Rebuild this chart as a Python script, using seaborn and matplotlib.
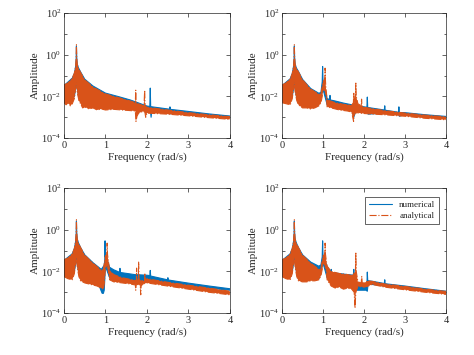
import numpy as np
import matplotlib
matplotlib.use("Agg")
import matplotlib.pyplot as plt
from matplotlib.lines import Line2D
from matplotlib.ticker import LogLocator, FixedLocator, NullLocator, NullFormatter
import seaborn as sns

# ---------------- data (frequency in rad/s, amplitude as log10) ----------------
series_names = ["numerical", "analytical"]
x_ticks = [0, 1, 2, 3, 4]
y_tick_exps = [-4, -2, 0, 2]

# Panel 1 (top-left)
p1_ana_hi_f = [0, 0.1, 0.2, 0.25, 0.28, 0.293, 0.30, 0.307, 0.32, 0.35, 0.4, 0.5, 0.7, 1.0, 1.3, 1.6, 1.72, 1.73, 1.74, 1.93, 1.945, 1.955, 2.0, 2.5, 3.0, 3.5, 4.0]
p1_ana_hi_a = [-1.45, -1.35, -1.12, -0.88, -0.55, -0.15, 0.48, -0.1, -0.45, -0.65, -0.85, -1.2, -1.55, -1.88, -2.05, -2.22, -2.3, -1.7, -2.32, -2.45, -1.7, -2.46, -2.52, -2.65, -2.78, -2.88, -2.97]
p1_ana_lo_f = [0, 0.05, 0.1, 0.15, 0.2, 0.25, 0.28, 0.3, 0.32, 0.36, 0.4, 0.45, 0.5, 0.6, 0.7, 0.8, 0.9, 1.0, 1.2, 1.4, 1.6, 1.72, 1.735, 1.76, 1.8, 1.9, 1.95, 1.97, 2.0, 2.5, 3.0, 3.5, 4.0]
p1_ana_lo_a = [-2.3, -2.4, -2.3, -2.45, -2.35, -2.1, -1.6, -1.3, -1.8, -2.2, -2.35, -2.55, -2.5, -2.6, -2.55, -2.65, -2.6, -2.65, -2.62, -2.65, -2.68, -2.7, -3.2, -2.95, -2.8, -2.72, -2.75, -3.0, -2.8, -2.85, -2.93, -3.02, -3.1]
p1_num_hi_f = [0, 0.2, 0.25, 0.28, 0.293, 0.30, 0.307, 0.32, 0.35, 0.4, 0.5, 0.7, 1.0, 1.3, 1.6, 2.0, 2.07, 2.08, 2.09, 2.5, 2.545, 2.555, 2.565, 3.0, 3.5, 4.0]
p1_num_hi_a = [-1.48, -1.12, -0.9, -0.57, -0.2, 0.42, -0.1, -0.45, -0.63, -0.82, -1.17, -1.5, -1.84, -2.0, -2.17, -2.46, -2.48, -1.6, -2.49, -2.6, -2.61, -2.5, -2.62, -2.72, -2.84, -2.94]
p1_num_lo_f = [0, 0.25, 0.3, 0.35, 0.4, 1.0, 1.6, 2.0, 2.085, 2.1, 2.115, 2.5, 2.545, 2.555, 2.565, 3.0, 4.0]
p1_num_lo_a = [-2.2, -2.0, -1.4, -2.0, -2.25, -2.5, -2.55, -2.65, -2.7, -3.0, -2.7, -2.75, -2.78, -2.85, -2.78, -2.85, -3.0]

# Panel 2 (top-right)
p2_ana_hi_f = [0, 0.1, 0.2, 0.25, 0.28, 0.293, 0.30, 0.307, 0.32, 0.35, 0.4, 0.5, 0.7, 0.9, 0.95, 0.98, 1.0, 1.03, 1.045, 1.05, 1.055, 1.07, 1.1, 1.15, 1.3, 1.5, 1.7, 1.74, 1.75, 1.76, 1.79, 1.8, 1.81, 1.85, 1.93, 1.94, 1.95, 2.0, 2.5, 3.0, 3.5, 4.0]
p2_ana_hi_a = [-1.45, -1.35, -1.15, -0.9, -0.55, -0.15, 0.48, -0.1, -0.45, -0.65, -0.82, -1.2, -1.65, -1.9, -1.85, -1.55, -1.3, -1.2, -1.1, -0.64, -1.1, -1.6, -2.15, -2.2, -2.3, -2.38, -2.42, -2.3, -1.85, -2.3, -2.0, -1.36, -2.0, -2.35, -2.45, -2.13, -2.46, -2.52, -2.68, -2.8, -2.9, -2.98]
p2_ana_lo_f = [0, 0.1, 0.2, 0.25, 0.28, 0.3, 0.32, 0.36, 0.4, 0.5, 0.6, 0.7, 0.8, 0.9, 0.95, 0.98, 1.0, 1.05, 1.08, 1.1, 1.2, 1.4, 1.6, 1.7, 1.745, 1.76, 1.78, 1.85, 1.9, 2.0, 2.5, 3.0, 3.5, 4.0]
p2_ana_lo_a = [-2.3, -2.35, -2.4, -2.1, -1.6, -1.3, -1.8, -2.2, -2.4, -2.55, -2.55, -2.6, -2.55, -2.45, -2.3, -2.0, -1.7, -1.7, -2.0, -2.5, -2.55, -2.65, -2.7, -2.75, -3.2, -2.9, -2.8, -2.78, -2.8, -2.82, -2.88, -2.95, -3.05, -3.12]
p2_num_hi_f = [0, 0.2, 0.25, 0.28, 0.293, 0.30, 0.307, 0.32, 0.35, 0.4, 0.5, 0.7, 0.9, 0.95, 0.98, 0.99, 1.0, 1.03, 1.07, 1.1, 1.16, 1.17, 1.18, 1.3, 1.5, 1.7, 2.0, 2.07, 2.08, 2.09, 2.495, 2.505, 2.515, 2.84, 2.85, 2.86, 3.0, 3.5, 4.0]
p2_num_hi_a = [-1.48, -1.15, -0.9, -0.57, -0.2, 0.42, -0.1, -0.45, -0.63, -0.8, -1.18, -1.62, -1.85, -1.8, -1.3, -0.56, -1.3, -1.4, -1.8, -2.1, -2.15, -1.95, -2.17, -2.22, -2.32, -2.4, -2.5, -2.52, -2.03, -2.53, -2.65, -2.45, -2.66, -2.76, -2.5, -2.77, -2.78, -2.88, -2.96]
p2_num_lo_f = [0, 0.25, 0.3, 0.35, 0.4, 0.9, 1.0, 1.1, 1.6, 1.7, 1.75, 1.8, 2.0, 2.08, 2.1, 2.5, 2.85, 2.86, 3.0, 4.0]
p2_num_lo_a = [-2.2, -2.0, -1.4, -2.0, -2.3, -2.35, -1.65, -2.4, -2.6, -2.65, -3.0, -2.7, -2.72, -2.75, -2.85, -2.8, -2.88, -2.95, -2.88, -3.05]

# Panel 3 (bottom-left)
p3_ana_hi_f = [0, 0.1, 0.2, 0.25, 0.28, 0.293, 0.30, 0.307, 0.32, 0.35, 0.4, 0.5, 0.7, 0.9, 0.95, 0.98, 1.0, 1.03, 1.04, 1.05, 1.07, 1.1, 1.2, 1.4, 1.6, 1.7, 1.745, 1.75, 1.755, 1.79, 1.8, 1.81, 1.9, 1.945, 1.95, 1.955, 2.0, 2.5, 3.0, 3.5, 4.0]
p3_ana_hi_a = [-1.44, -1.35, -1.15, -0.9, -0.55, -0.15, 0.48, -0.1, -0.45, -0.65, -0.85, -1.22, -1.6, -1.95, -1.9, -1.5, -1.25, -1.2, -0.64, -1.2, -1.5, -1.95, -2.15, -2.3, -2.38, -2.42, -2.45, -1.84, -2.45, -2.4, -1.55, -2.4, -2.45, -2.45, -2.08, -2.45, -2.35, -2.52, -2.66, -2.8, -2.95]
p3_ana_lo_f = [0, 0.1, 0.2, 0.25, 0.28, 0.3, 0.32, 0.36, 0.4, 0.5, 0.6, 0.7, 0.8, 0.9, 0.95, 0.97, 1.0, 1.05, 1.08, 1.1, 1.2, 1.4, 1.6, 1.72, 1.73, 1.74, 1.8, 1.84, 1.85, 1.86, 1.9, 2.0, 2.5, 3.0, 3.5, 4.0]
p3_ana_lo_a = [-2.25, -2.35, -2.4, -2.1, -1.6, -1.3, -1.8, -2.25, -2.45, -2.55, -2.6, -2.65, -2.7, -2.8, -2.85, -2.6, -1.8, -1.75, -2.1, -2.4, -2.5, -2.55, -2.6, -2.65, -2.9, -2.65, -2.6, -2.7, -3.12, -2.7, -2.6, -2.55, -2.7, -2.85, -3.0, -3.12]
p3_num_hi_f = [0, 0.2, 0.25, 0.28, 0.293, 0.30, 0.307, 0.32, 0.35, 0.4, 0.5, 0.7, 0.9, 0.97, 0.985, 0.99, 0.995, 1.02, 1.07, 1.1, 1.2, 1.34, 1.35, 1.36, 1.6, 1.7, 2.0, 2.07, 2.08, 2.09, 2.495, 2.505, 2.515, 3.0, 3.5, 4.0]
p3_num_hi_a = [-1.47, -1.15, -0.9, -0.57, -0.2, 0.42, -0.1, -0.45, -0.63, -0.85, -1.2, -1.58, -1.9, -1.7, -1.4, -0.53, -1.3, -1.35, -1.6, -1.8, -1.92, -2.04, -1.85, -2.05, -2.12, -2.15, -2.18, -2.2, -1.95, -2.22, -2.4, -2.3, -2.41, -2.56, -2.7, -2.83]
p3_num_lo_f = [0, 0.25, 0.3, 0.35, 0.4, 0.85, 0.92, 0.95, 0.97, 1.0, 1.1, 1.6, 2.0, 3.0, 4.0]
p3_num_lo_a = [-2.15, -2.0, -1.4, -2.0, -2.35, -2.7, -3.05, -3.05, -2.9, -1.75, -2.3, -2.5, -2.45, -2.7, -2.9]

# Panel 4 (bottom-right)
p4_ana_hi_f = [0, 0.1, 0.2, 0.25, 0.28, 0.293, 0.30, 0.307, 0.32, 0.35, 0.4, 0.5, 0.7, 0.9, 0.95, 0.98, 1.0, 1.03, 1.045, 1.05, 1.055, 1.08, 1.1, 1.2, 1.4, 1.6, 1.7, 1.75, 1.79, 1.8, 1.81, 1.85, 1.93, 1.945, 1.955, 2.0, 2.1, 2.2, 2.5, 3.0, 3.5, 4.0]
p4_ana_hi_a = [-1.44, -1.35, -1.15, -0.9, -0.55, -0.15, 0.48, -0.1, -0.45, -0.65, -0.85, -1.22, -1.6, -1.9, -1.85, -1.5, -1.25, -1.2, -1.1, -0.64, -1.1, -1.5, -1.75, -2.0, -2.1, -2.15, -2.2, -2.1, -2.0, -1.12, -2.0, -2.5, -2.55, -2.24, -2.55, -2.55, -2.45, -2.48, -2.6, -2.72, -2.85, -2.96]
p4_ana_lo_f = [0, 0.1, 0.2, 0.25, 0.28, 0.3, 0.32, 0.36, 0.4, 0.5, 0.6, 0.7, 0.8, 0.9, 0.95, 0.98, 1.0, 1.05, 1.08, 1.1, 1.2, 1.3, 1.4, 1.5, 1.6, 1.7, 1.76, 1.78, 1.8, 1.85, 2.0, 2.1, 2.2, 2.5, 3.0, 3.5, 4.0]
p4_ana_lo_a = [-2.25, -2.35, -2.4, -2.1, -1.6, -1.3, -1.8, -2.25, -2.45, -2.5, -2.5, -2.45, -2.45, -2.4, -2.2, -1.9, -1.6, -1.7, -2.0, -2.4, -2.7, -2.8, -2.75, -2.85, -2.8, -2.85, -3.0, -3.76, -3.0, -2.72, -2.75, -2.7, -2.62, -2.75, -2.88, -3.0, -3.1]
p4_num_hi_f = [0, 0.2, 0.25, 0.28, 0.293, 0.30, 0.307, 0.32, 0.35, 0.4, 0.5, 0.7, 0.9, 0.95, 0.98, 0.99, 1.0, 1.03, 1.07, 1.1, 1.19, 1.2, 1.21, 1.4, 1.6, 1.74, 1.75, 1.76, 1.8, 1.82, 2.05, 2.07, 2.08, 2.09, 2.1, 2.2, 2.495, 2.505, 2.515, 3.0, 3.5, 4.0]
p4_num_hi_a = [-1.47, -1.15, -0.9, -0.57, -0.2, 0.42, -0.1, -0.45, -0.63, -0.85, -1.2, -1.55, -1.75, -1.68, -1.3, -0.53, -1.3, -1.4, -1.6, -1.75, -2.05, -1.9, -2.06, -2.1, -2.15, -2.18, -1.9, -2.2, -2.3, -2.7, -2.7, -2.7, -2.03, -2.45, -2.45, -2.47, -2.58, -2.4, -2.59, -2.7, -2.83, -2.95]
p4_num_lo_f = [0, 0.25, 0.3, 0.35, 0.4, 0.9, 1.0, 1.1, 1.6, 1.8, 1.82, 2.05, 2.08, 2.1, 2.5, 3.0, 4.0]
p4_num_lo_a = [-2.15, -2.0, -1.4, -2.0, -2.35, -2.35, -1.6, -2.3, -2.7, -2.8, -2.9, -2.9, -2.95, -2.6, -2.7, -2.82, -3.0]

panels = [
    (p1_num_hi_f, p1_num_hi_a, p1_num_lo_f, p1_num_lo_a, p1_ana_hi_f, p1_ana_hi_a, p1_ana_lo_f, p1_ana_lo_a),
    (p2_num_hi_f, p2_num_hi_a, p2_num_lo_f, p2_num_lo_a, p2_ana_hi_f, p2_ana_hi_a, p2_ana_lo_f, p2_ana_lo_a),
    (p3_num_hi_f, p3_num_hi_a, p3_num_lo_f, p3_num_lo_a, p3_ana_hi_f, p3_ana_hi_a, p3_ana_lo_f, p3_ana_lo_a),
    (p4_num_hi_f, p4_num_hi_a, p4_num_lo_f, p4_num_lo_a, p4_ana_hi_f, p4_ana_hi_a, p4_ana_lo_f, p4_ana_lo_a),
]

# ---------------- style ----------------
sns.set_style("ticks")
plt.rcParams["font.family"] = ["Liberation Serif", "DejaVu Serif"]
plt.rcParams["mathtext.fontset"] = "custom"
plt.rcParams["mathtext.rm"] = "Liberation Serif"
plt.rcParams["mathtext.it"] = "Liberation Serif:italic"
plt.rcParams["mathtext.default"] = "regular"

BLUE = "#0072BD"
ORANGE = "#D95319"
AXC = "#262626"
FS = 7.5

fig = plt.figure(figsize=(4.74, 3.55), dpi=100)
positions = [
    [0.135, 0.611, 0.350, 0.352],
    [0.595, 0.611, 0.346, 0.352],
    [0.135, 0.118, 0.350, 0.352],
    [0.595, 0.118, 0.346, 0.352],
]


def draw_series(ax, fh, ah, fl, al, color, ls, z):
    fh = np.asarray(fh, float)
    fl = np.asarray(fl, float)
    hi = np.power(10.0, np.asarray(ah, float))
    lo = np.power(10.0, np.asarray(al, float))
    ax.fill(np.r_[fh, fl[::-1]], np.r_[hi, lo[::-1]], color=color, lw=0, zorder=z)
    sns.lineplot(x=fh, y=hi, ax=ax, color=color, lw=0.8, ls=ls, zorder=z + 0.1,
                 estimator=None, sort=False, legend=False)
    sns.lineplot(x=fl, y=lo, ax=ax, color=color, lw=0.8, ls=ls, zorder=z + 0.1,
                 estimator=None, sort=False, legend=False)


for i, (pos, data) in enumerate(zip(positions, panels)):
    ax = fig.add_axes(pos)
    ax.set_yscale("log")
    nhf, nha, nlf, nla, ahf, aha, alf, ala = data
    draw_series(ax, nhf, nha, nlf, nla, BLUE, "-", 1.0)
    draw_series(ax, ahf, aha, alf, ala, ORANGE, "-.", 1.5)
    ax.set_xlim(0, 4)
    ax.set_ylim(1e-4, 1e2)
    ax.xaxis.set_major_locator(FixedLocator(x_ticks))
    ax.xaxis.set_minor_locator(NullLocator())
    ax.yaxis.set_major_locator(FixedLocator([10.0 ** e for e in y_tick_exps]))
    ax.yaxis.set_minor_locator(LogLocator(base=10, subs=(1.0,), numticks=20))
    ax.yaxis.set_minor_formatter(NullFormatter())
    ax.set_xticklabels([str(t) for t in x_ticks])
    ax.set_yticklabels([r"$10^{%d}$" % e for e in y_tick_exps])
    ax.tick_params(which="both", direction="in", top=True, right=True,
                   color=AXC, labelcolor=AXC, labelsize=FS, width=0.5, pad=2)
    ax.tick_params(which="major", length=3)
    ax.tick_params(which="minor", length=1.8)
    for s in ax.spines.values():
        s.set_color(AXC)
        s.set_linewidth(0.5)
        s.set_zorder(3)
    ax.set_xlabel("Frequency (rad/s)", fontsize=FS + 0.5, color=AXC, labelpad=2)
    ax.set_ylabel("Amplitude", fontsize=FS + 0.5, color=AXC, labelpad=1)
    if i == 3:
        handles = [Line2D([], [], color=BLUE, lw=0.8, ls="-"),
                   Line2D([], [], color=ORANGE, lw=0.8, ls="-.")]
        leg = ax.legend(handles, series_names, loc="upper right",
                        bbox_to_anchor=(0.957, 0.928), borderaxespad=0,
                        fontsize=6.5, fancybox=False, framealpha=1,
                        edgecolor=AXC, handlelength=2.6, borderpad=0.4,
                        labelspacing=0.3, handletextpad=0.8)
        leg.get_frame().set_linewidth(0.5)
        leg.set_zorder(5)

fig.savefig("out.png", dpi=100)
